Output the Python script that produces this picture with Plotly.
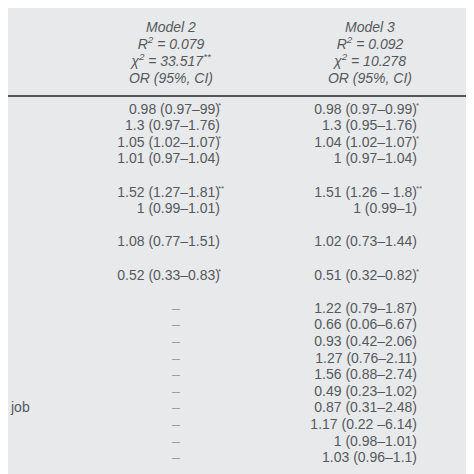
import plotly.graph_objects as go

# header lines of the two model columns
header_m2 = ["<i>Model 2</i>", "<i>R<sup>2</sup> = 0.079</i>", "<i>χ<sup>2</sup> = 33.517<sup>**</sup></i>", "<i>OR (95%, CI)</i>"]
header_m3 = ["<i>Model 3</i>", "<i>R<sup>2</sup> = 0.092</i>", "<i>χ<sup>2</sup> = 10.278</i>", "<i>OR (95%, CI)</i>"]

# body rows (row index -> text, significance stars)
rows_m2 = [0, 1, 2, 3, 5, 6, 8, 10]
vals_m2 = ["0.98 (0.97–99)", "1.3 (0.97–1.76)", "1.05 (1.02–1.07)", "1.01 (0.97–1.04)",
           "1.52 (1.27–1.81)", "1 (0.99–1.01)", "1.08 (0.77–1.51)", "0.52 (0.33–0.83)"]
stars_m2 = ["*", "", "*", "", "**", "", "", "*"]
dash_rows_m2 = [12, 13, 14, 15, 16, 17, 18, 19, 20, 21, 22]

rows_m3 = [0, 1, 2, 3, 5, 6, 8, 10, 12, 13, 14, 15, 16, 17, 18, 19, 20, 21, 22]
vals_m3 = ["0.98 (0.97–0.99)", "1.3 (0.95–1.76)", "1.04 (1.02–1.07)", "1 (0.97–1.04)",
           "1.51 (1.26 – 1.8)", "1 (0.99–1)", "1.02 (0.73–1.44)", "0.51 (0.32–0.82)",
           "1.22 (0.79–1.87)", "0.66 (0.06–6.67)", "0.93 (0.42–2.06)", "1.27 (0.76–2.11)", "1.56 (0.88–2.74)",
           "0.49 (0.23–1.02)", "0.87 (0.31–2.48)", "1.17 (0.22 –6.14)", "1 (0.98–1.01)", "1.03 (0.96–1.1)"]
stars_m3 = ["*", "", "*", "", "**", "", "", "*"] + [""] * 11

rows_lbl = [7, 9, 11, 18]
vals_lbl = ["y)", "y)", "yed)", "job"]

col = "#55595d"
font = dict(family="Liberation Sans, Arial", size=14, color=col)
star_font = dict(family="Liberation Sans, Arial", size=8, color=col)

def ypix(r):
    return 102 + 16.6 * r

fig = go.Figure()
hy = [20 + 17.3 * i for i in range(4)]
fig.add_trace(go.Scatter(x=[163] * 4, y=hy, text=header_m2, mode="text",
                         textposition="middle center", textfont=font))
fig.add_trace(go.Scatter(x=[362] * 4, y=hy, text=header_m3, mode="text",
                         textposition="middle center", textfont=font))

fig.add_trace(go.Scatter(x=[212] * len(vals_m2), y=[ypix(r) for r in rows_m2], text=vals_m2,
                         mode="text", textposition="middle left", textfont=font))
fig.add_trace(go.Scatter(x=[210] * len(stars_m2), y=[ypix(r) - 4 for r in rows_m2], text=stars_m2,
                         mode="text", textposition="middle right", textfont=star_font))
fig.add_trace(go.Scatter(x=[168] * len(dash_rows_m2), y=[ypix(r) for r in dash_rows_m2],
                         text=["–"] * len(dash_rows_m2), mode="text", textposition="middle center",
                         textfont=dict(family="Liberation Sans, Arial", size=14, color="#9a9da0")))

fig.add_trace(go.Scatter(x=[409] * len(vals_m3), y=[ypix(r) for r in rows_m3], text=vals_m3,
                         mode="text", textposition="middle left", textfont=font))
fig.add_trace(go.Scatter(x=[408] * len(stars_m3), y=[ypix(r) - 4 for r in rows_m3], text=stars_m3,
                         mode="text", textposition="middle right", textfont=star_font))

fig.add_trace(go.Scatter(x=[-1, -1, -1, 3], y=[ypix(r) for r in rows_lbl], text=vals_lbl,
                         mode="text", textposition="middle right", textfont=font))

fig.add_shape(type="line", x0=0, x1=474, y0=88, y1=88, line=dict(color="#222", width=1.5))

fig.update_traces(cliponaxis=False)
fig.update_layout(width=474, height=474, margin=dict(l=0, r=0, t=0, b=0),
                  paper_bgcolor="#e8e9eb", plot_bgcolor="#e8e9eb", showlegend=False,
                  xaxis=dict(range=[0, 474], visible=False),
                  yaxis=dict(range=[474, 0], visible=False))
fig.write_html("out.html")
